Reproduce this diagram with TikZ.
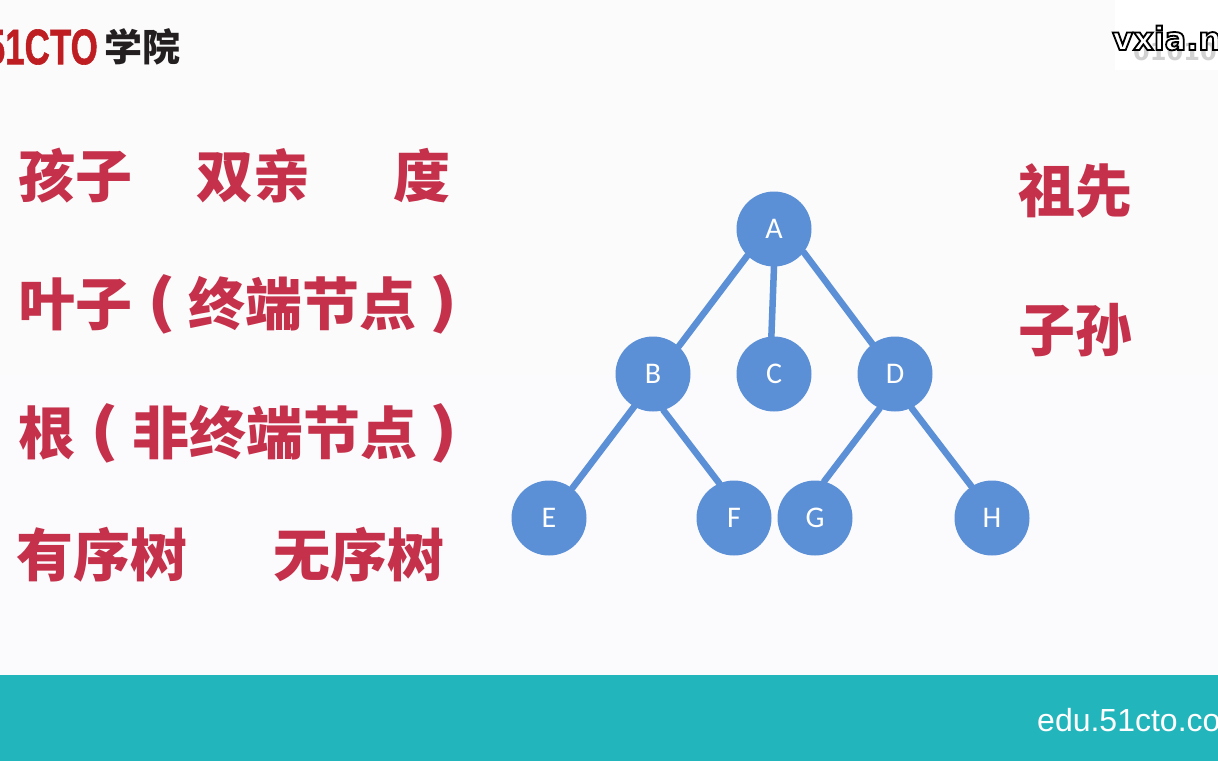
\documentclass[tikz,border=0pt]{standalone}
\usepackage{fontspec}
\newfontfamily\cjkbold{Noto Sans CJK SC Black}
\newfontfamily\lettersfont{Carlito}
\newfontfamily\footfont{Liberation Sans}
\newfontfamily\logofont[FakeBold=1.2]{Liberation Sans Bold}
\newfontfamily\markfont{DejaVu Sans Bold}
\definecolor{pagetop}{HTML}{FBFBFB}
\definecolor{pagelow}{HTML}{FBFBFE}
\definecolor{footteal}{HTML}{22B5BB}
\definecolor{termred}{HTML}{C5304A}
\definecolor{treeblue}{HTML}{5B8FD6}
\definecolor{logored}{HTML}{BE1E22}
\definecolor{logoblack}{HTML}{231F20}
\newcommand{\outlined}[1]{\special{pdf:code q 2 Tr 1.8 w 0 0 0 RG 1 1 1 rg}#1\special{pdf:code Q}}
\tikzset{
    term/.style={anchor=west, inner sep=0pt, text=termred, font=\cjkbold\fontsize{57}{57}\selectfont},
    paren/.style={term, anchor=center, xscale=1.25},
    treenode/.style={circle, fill=treeblue, text=white, inner sep=0pt, minimum size=75pt, font=\lettersfont\fontsize{30}{30}\selectfont},
    treeedge/.style={draw=treeblue, line width=6.5pt, line cap=round}
}
\begin{document}
\begin{tikzpicture}[x=1pt, y=-1pt]
        \useasboundingbox (0, 0) rectangle (1218, 761);
        \fill[pagetop] (0, 0) rectangle (1218, 375);
        \fill[pagelow] (0, 375) rectangle (1218, 675);
        \fill[footteal] (0, 675) rectangle (1218, 761);
        \fill[white] (1115, 0) rectangle (1218, 70);

        \node[anchor=east, inner sep=0pt, text=logored, xscale=0.7, font=\logofont\fontsize{50}{50}\selectfont] (logoname) at (98, 47) {51CTO};
        \node[anchor=west, inner sep=0pt, text=logoblack, font=\cjkbold\fontsize{38}{38}\selectfont] (logocn) at (104, 47) {学院};
        \node[anchor=west, inner sep=0pt, text=black!18, font=\markfont\fontsize{24}{24}\selectfont] (ghostmark) at (1133, 52) {01010};
        \node[anchor=west, inner sep=0pt, font=\markfont\fontsize{32}{32}\selectfont] (watermark) at (1112, 38) {\outlined{vxia.n}};
        \node[anchor=west, inner sep=0pt, text=white, font=\footfont\fontsize{32}{32}\selectfont] (site) at (1037, 720) {edu.51cto.co};

        \node[term] (child) at (18, 176) {孩子};
        \node[term] (parent) at (196, 176) {双亲};
        \node[term] (degree) at (393, 176) {度};
        \node[term] (leaf) at (18, 304) {叶子};
        \node[paren] (leafopen) at (162, 304) {(};
        \node[term] (leafname) at (188, 304) {终端节点};
        \node[paren] (leafclose) at (444, 304) {)};
        \node[term] (root) at (18, 433) {根};
        \node[paren] (rootopen) at (105, 433) {(};
        \node[term] (rootname) at (132, 433) {非终端节点};
        \node[paren] (rootclose) at (444, 433) {)};
        \node[term] (ordered) at (16, 555) {有序树};
        \node[term] (unordered) at (273, 555) {无序树};
        \node[term] (ancestor) at (1018, 191) {祖先};
        \node[term] (descendant) at (1018, 330) {子孙};

        \foreach \name/\x/\y in {A/774/229, B/653/374, C/774/374, D/895/374, E/549/518, F/734/518, G/815/518, H/992/518} {
            \node[treenode] (\name) at (\x, \y) {\name};
        }
        \foreach \from/\fromangle/\to/\toangle in {A/225/B/47, A/270/C/94, A/322/D/127, B/240/E/52, B/286/F/113, D/246/G/76, D/296/H/123} {
            \draw[treeedge] (\from.\fromangle) -- (\to.\toangle);
        }
    \end{tikzpicture}
\end{document}
